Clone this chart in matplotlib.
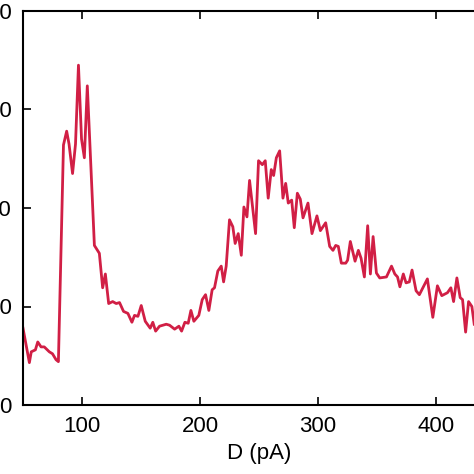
import matplotlib
matplotlib.use("Agg")
import matplotlib.pyplot as plt

plt.rcParams["font.family"] = ["Liberation Sans", "DejaVu Sans"]

# current bins (pA) and counts
d_pa = [50, 55.4, 57, 60.5, 62.5, 65.3, 68, 72.3, 75, 78, 80, 84.3, 87, 89, 92, 94.5, 97, 99.6,
        102, 104.5, 110.5, 114.7, 117.5, 119.8, 122.6, 126, 129, 131.8, 135.2, 138.9, 142.3,
        144.5, 147.4, 150.2, 153.6, 157.8, 160, 162.4, 165.7, 171.4, 174.2, 178.5, 182.1,
        184.4, 187.2, 190, 192.3, 194.8, 199, 201.9, 204.7, 207.5, 210.3, 212.3, 215.1, 218,
        220, 222.2, 225, 227.8, 229.8, 232.4, 235, 237.2, 239.8, 242, 247.1, 249.6, 252.8,
        255.3, 257.8, 260.4, 262.4, 264.7, 267.5, 270.3, 272.6, 274.8, 277.7, 279.9, 282.5,
        285, 287.3, 291.5, 294.9, 299.1, 302, 306.5, 309.9, 312.7, 315, 317.2, 319.8, 323.5,
        325.1, 327.4, 331.4, 334.2, 336.5, 339.3, 342.1, 344.4, 346.7, 349.5, 352.3, 358,
        362.3, 365.1, 367.4, 369.4, 372.3, 374.6, 377.4, 379.7, 383.1, 385.9, 389.3, 392.7,
        397.3, 401.2, 404.9, 409.7, 412.6, 414.9, 417.7, 420.5, 422.5, 425.1, 427.6, 430.4, 432.4]
counts = [7.8, 4.3, 5.4, 5.6, 6.4, 5.9, 5.9, 5.4, 5.2, 4.6, 4.4, 26.4, 27.8, 26.5, 23.5, 26.5,
          34.5, 27.0, 25.1, 32.4, 16.2, 15.4, 11.9, 13.3, 10.3, 10.5, 10.3, 10.4, 9.5, 9.3, 8.4,
          9.1, 9.0, 10.1, 8.5, 7.8, 8.4, 7.5, 8.0, 8.2, 8.1, 7.7, 8.0, 7.5, 8.4, 8.3, 9.6, 8.5,
          9.1, 10.7, 11.2, 9.6, 11.7, 11.9, 13.6, 14.1, 12.5, 14.1, 18.8, 18.1, 16.4, 17.4, 15.2,
          20.1, 19.1, 22.8, 17.4, 24.8, 24.4, 24.8, 21.0, 23.9, 23.3, 25.1, 25.8, 21.0, 22.5,
          20.5, 20.8, 18.0, 21.5, 20.9, 19.0, 20.5, 17.4, 19.2, 17.7, 18.5, 16.1, 15.7, 16.2,
          16.1, 14.4, 14.4, 14.7, 16.6, 14.6, 15.7, 14.9, 13.0, 18.2, 13.3, 17.1, 13.4, 12.9,
          13.0, 14.1, 13.3, 13.0, 12.0, 13.3, 12.4, 12.5, 13.7, 11.6, 11.2, 12.0, 12.8, 8.9,
          12.1, 11.1, 11.4, 11.9, 10.5, 12.9, 10.9, 10.7, 7.4, 10.5, 10.0, 8.2]
x_ticks = [100, 200, 300, 400]
y_ticks = [0, 10, 20, 30, 40]

fig = plt.figure(figsize=(4.74, 4.74), dpi=100)
# axes deliberately run past the right edge, as in the cropped reference
ax = fig.add_axes([23 / 474, 69 / 474, 472 / 474, 394 / 474])
ax.plot(d_pa, counts, color="#d11f45", lw=2)
ax.set_xlim(50, 450)
ax.set_ylim(0, 40)
ax.set_xticks(x_ticks)
ax.set_yticks(y_ticks)
ax.tick_params(direction="in", top=True, right=True, length=6, width=1.2, labelsize=16, pad=8)
for s in ax.spines.values():
    s.set_linewidth(1.5)
ax.set_xlabel("D (pA)", fontsize=16, labelpad=4)
fig.savefig("out.png", dpi=100)
